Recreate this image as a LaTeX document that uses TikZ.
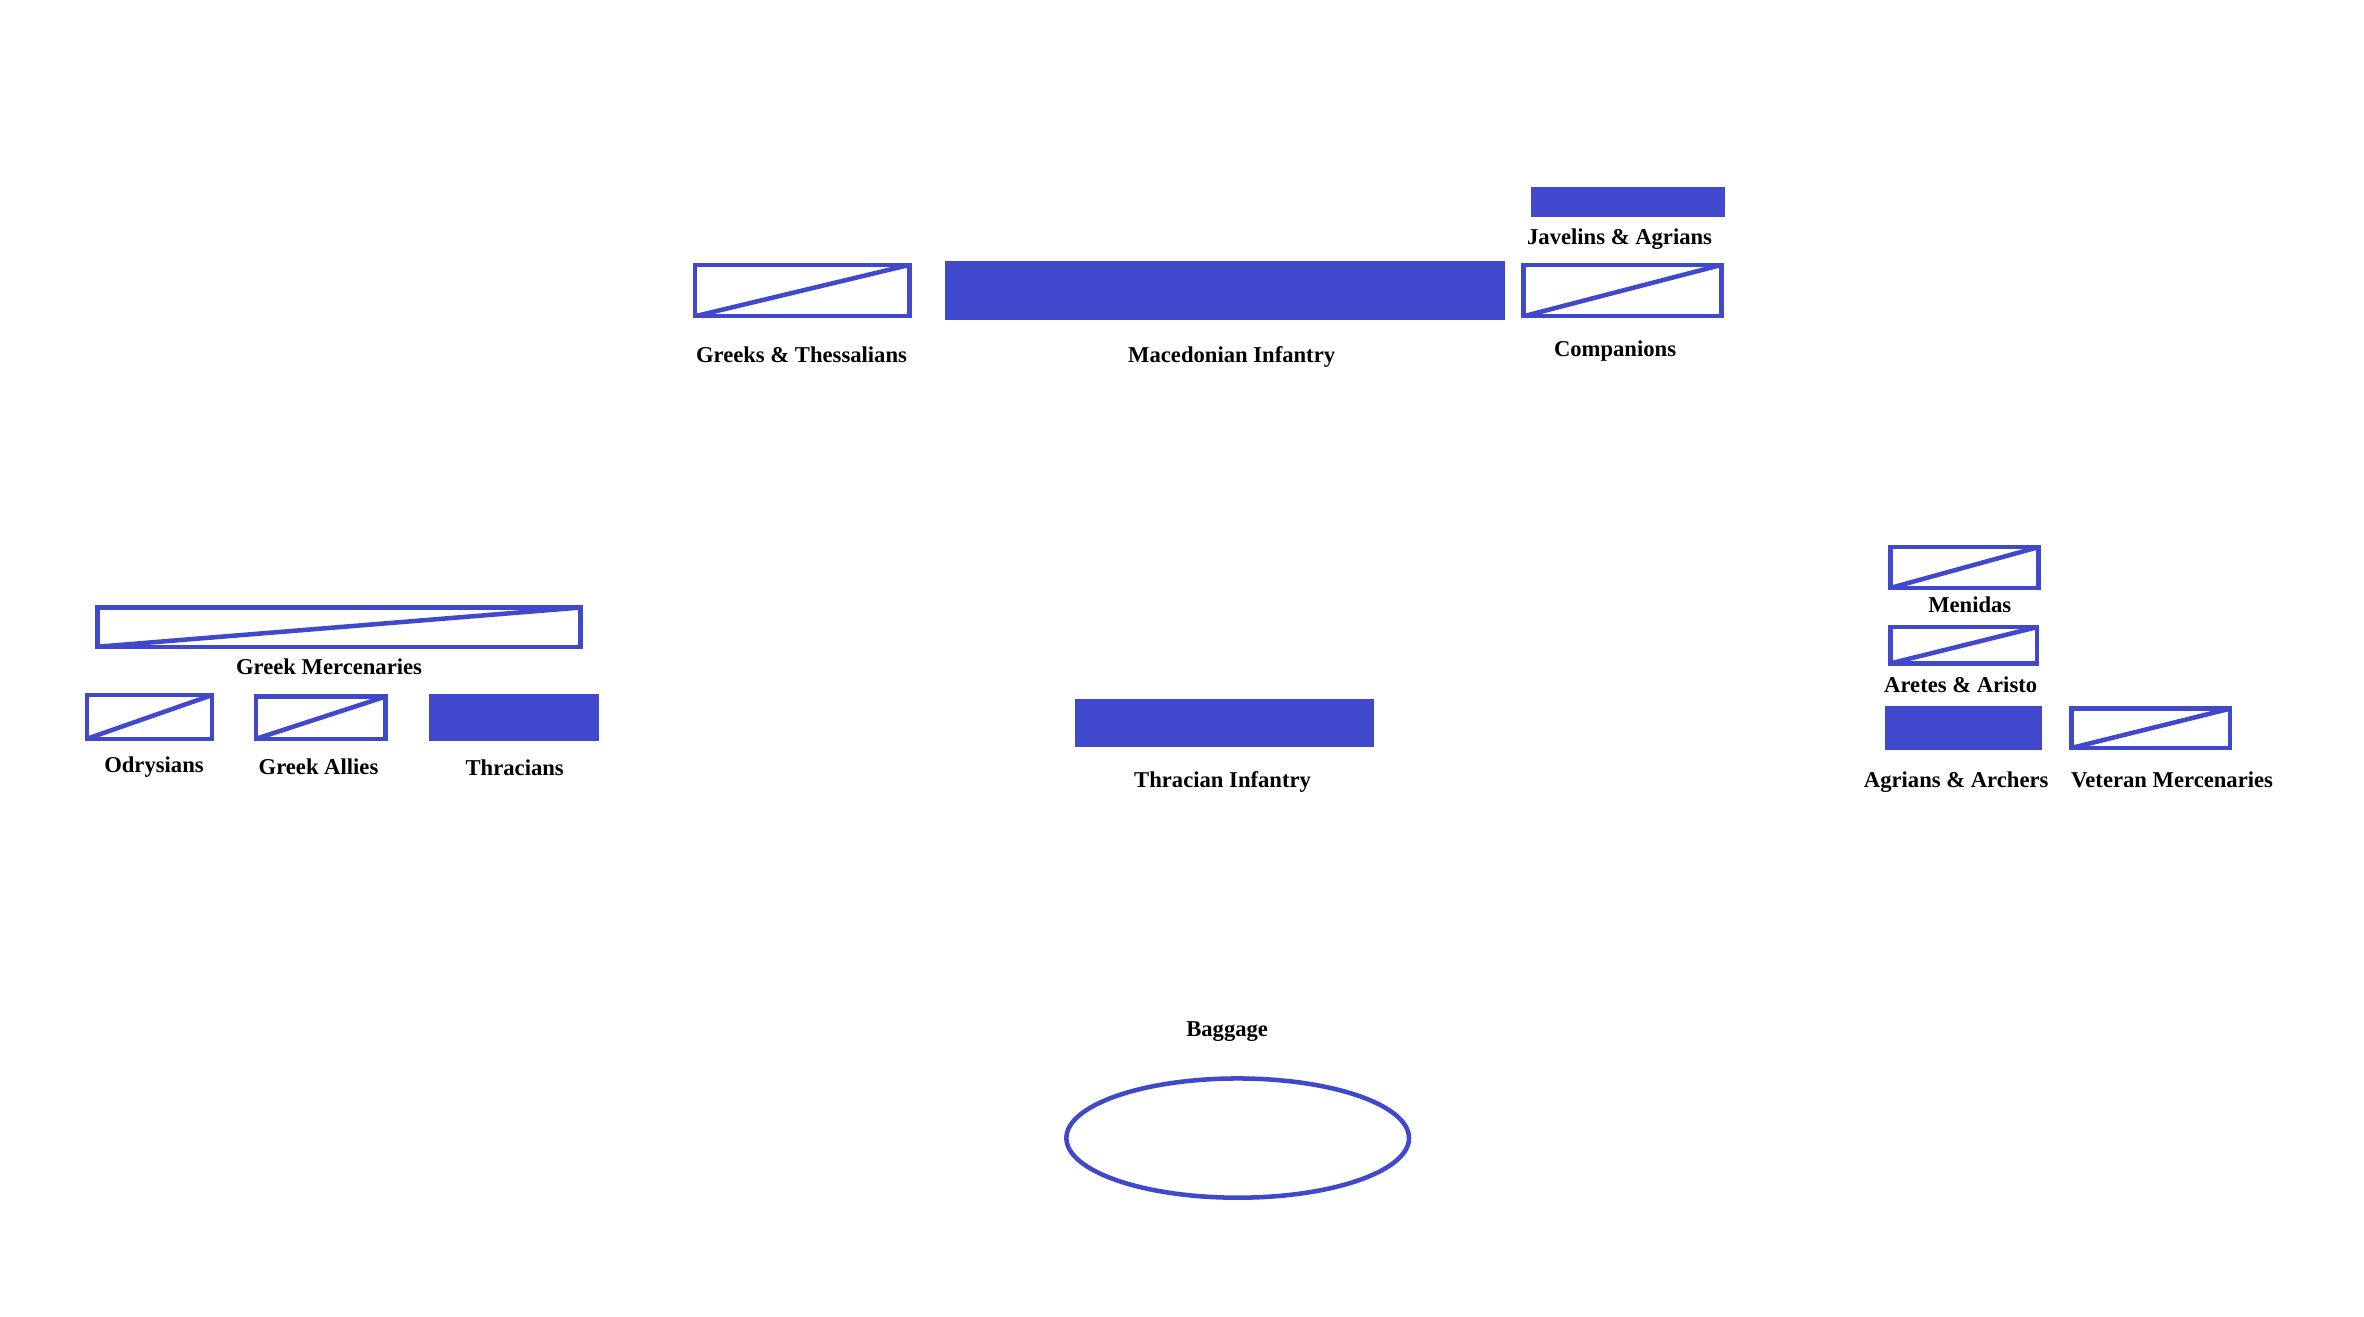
\documentclass[tikz,border=0pt]{standalone}
\usepackage{fontspec}
\setmainfont{Liberation Serif}
\usetikzlibrary{shapes.geometric}
\definecolor{unitblue}{RGB}{64,72,204}
\tikzset{
  unitout/.style={draw=unitblue, line width=3pt, inner sep=0pt, fill=white,
    path picture={\draw[unitblue, line width=3pt] (path picture bounding box.south west) -- (path picture bounding box.north east);}},
  unitfill/.style={fill=unitblue, draw=none, inner sep=0pt},
  lbl/.style={anchor=base, inner sep=0pt, font=\fontsize{15pt}{17pt}\selectfont\bfseries, text=black}
}
\begin{document}
\begin{tikzpicture}[x=1pt,y=-1pt]
\fill[white] (0,0) rectangle (1566.2,871.9);
\useasboundingbox (0,0) rectangle (1566.2,871.9);
% top row
\node[unitfill, minimum width=129pt, minimum height=20pt] (jav) at (1078.5,134) {};
\node[lbl] (javl) at (1073,162) {Javelins \& Agrians};
\node[unitout, minimum width=142pt, minimum height=34pt] (gt) at (531.5,192.5) {};
\node[lbl] (gtl) at (531,240) {Greeks \& Thessalians};
\node[unitfill, minimum width=371pt, minimum height=39pt] (mac) at (811.5,192.5) {};
\node[lbl] (macl) at (816,240) {Macedonian Infantry};
\node[unitout, minimum width=131pt, minimum height=34pt] (comp) at (1075,192.5) {};
\node[lbl] (compl) at (1070,236) {Companions};
% left
\node[unitout, minimum width=320pt, minimum height=26pt] (gm) at (224.5,415.5) {};
\node[lbl] (gml) at (218,447) {Greek Mercenaries};
\node[unitout, minimum width=83pt, minimum height=29pt] (odr) at (99,475) {};
\node[lbl] (odrl) at (102,512) {Odrysians};
\node[unitout, minimum width=86pt, minimum height=28pt] (ga) at (212.5,475.5) {};
\node[lbl] (gal) at (211,513) {Greek Allies};
\node[unitfill, minimum width=113pt, minimum height=31pt] (thr) at (340.5,475.5) {};
\node[lbl] (thrl) at (341,514) {Thracians};
% centre
\node[unitfill, minimum width=198pt, minimum height=32pt] (ti) at (811,479) {};
\node[lbl] (til) at (810,522) {Thracian Infantry};
\node[lbl] (bagl) at (813,687) {Baggage};
\node[ellipse, draw=unitblue, line width=3pt, minimum width=227pt, minimum height=79pt, inner sep=0pt] (bag) at (820,754) {};
% right
\node[unitout, minimum width=98pt, minimum height=27pt] (men) at (1301.5,376) {};
\node[lbl] (menl) at (1305,406) {Menidas};
\node[unitout, minimum width=97pt, minimum height=24pt] (aa) at (1301,427.5) {};
\node[lbl] (aal) at (1299,459) {Aretes \& Aristo};
\node[unitfill, minimum width=104pt, minimum height=29pt] (agr) at (1301,482.5) {};
\node[lbl] (agrl) at (1296,522) {Agrians \& Archers};
\node[unitout, minimum width=105pt, minimum height=26pt] (vm) at (1425,482.5) {};
\node[lbl] (vml) at (1439,522) {Veteran Mercenaries};
\end{tikzpicture}
\end{document}
